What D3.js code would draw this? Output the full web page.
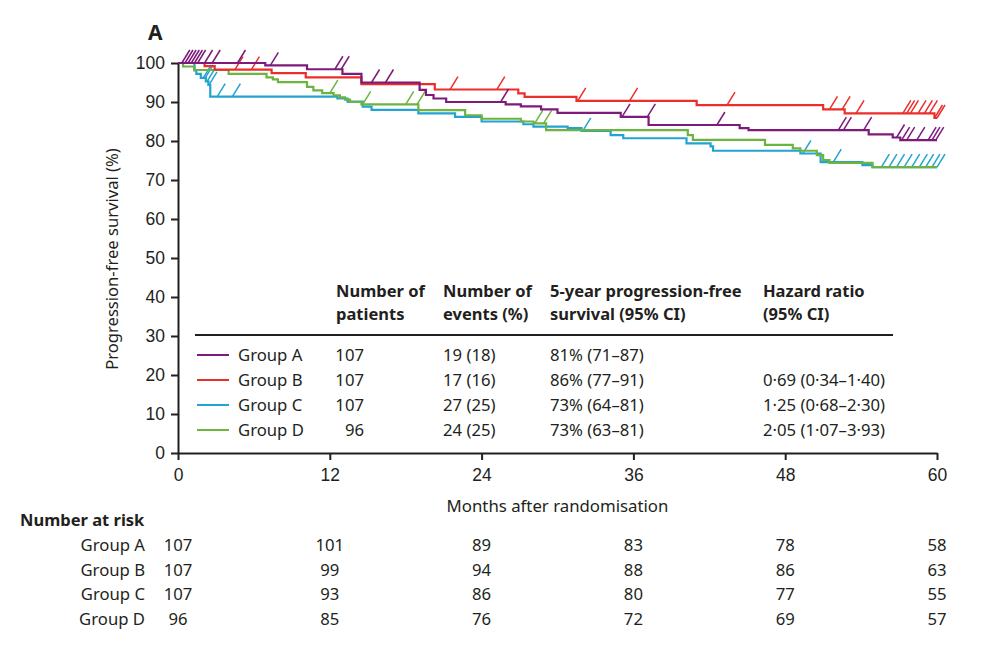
<!DOCTYPE html>
<html>
<head>
<meta charset="utf-8">
<title>Progression-free survival</title>
<style type="text/css">
body { margin:0; background:#fff; }
svg { font-family:"Noto Sans", sans-serif; }
svg text { fill:#231f20; }
.axis { color:#231f20; }
.axis path, .axis line { stroke-width:2px; }
.axis text { font-size:17.5px; }
.curve { fill:none; stroke-width:2.2px; }
.censor { stroke-width:1.5px; }
.head { font-weight:bold; font-size:16.5px; }
.cell { font-size:16.7px; }
</style>
</head>
<body>
<div id="chart"></div>
<script src="https://cdn.jsdelivr.net/npm/d3@7"></script>
<script type="text/javascript">

// ---- data ----
var groups = ["Group A", "Group B", "Group C", "Group D"];

// [month, % progression-free] at each drop
var stepsA = [[0,100],[6.9,99.4],[10.2,98.4],[13.0,97.2],[14.5,95.0],[19.1,93.1],[19.6,91.8],[20.2,90.9],[21.2,90.0],[25.9,89.4],[27.1,88.9],[28.7,88.1],[30.0,87.2],[35.0,86.2],[37.2,84.1],[44.4,83.3],[45.1,82.8],[54.6,81.7],[56.5,80.9],[57.1,80.2]];
var stepsB = [[0,100],[2.1,99.2],[2.9,98.3],[7.4,97.4],[10.1,96.3],[14.5,94.6],[20.3,93.2],[26.9,92.2],[27.4,91.3],[31.5,90.3],[41.0,89.2],[51.0,88.1],[52.7,87.1],[59.8,85.9]];
var stepsC = [[0,100],[1.3,98.1],[1.45,97.2],[1.8,96.2],[2.2,95.3],[2.4,94.4],[2.55,91.4],[12.6,90.9],[13.4,90.1],[14.6,88.8],[15.3,88.0],[19.0,87.1],[21.9,86.2],[24.0,85.0],[27.3,84.3],[28.1,83.7],[30.8,83.3],[31.9,82.6],[34.2,81.5],[35.2,80.7],[40.2,79.4],[42.1,78.6],[42.3,77.5],[49.2,76.8],[50.8,74.6],[54.1,73.8],[54.9,73.3]];
var stepsD = [[0,100],[0.4,99.1],[1.3,98.2],[4.0,97.2],[7.0,96.3],[7.5,95.8],[7.9,95.1],[10.2,93.9],[10.7,93.0],[11.4,92.3],[12.3,91.7],[12.8,91.2],[13.2,90.6],[13.6,90.0],[14.5,89.4],[19.0,87.9],[22.7,86.6],[24.0,85.7],[27.1,85.0],[28.1,84.5],[29.1,82.8],[40.3,81.5],[40.7,80.3],[46.4,79.0],[48.6,78.1],[49.2,77.5],[50.5,76.4],[51.0,75.1],[51.5,74.4],[54.9,73.3]];

// censoring times (months)
var censorA = [0.3,0.55,0.8,1.05,1.3,1.55,2.1,2.7,4.7,7.3,12.4,12.9,15.3,16.4,25.5,35.1,37.1,42.6,52.2,52.6,54.2,56.8,57.2,57.6,58.4,59.3,59.6,59.9];
var censorB = [4.5,5.8,21.5,25.2,31.6,35.7,43.4,51.5,52.5,53.6,57.3,57.6,57.9,58.5,59.0,59.4,59.8,60.0];
var censorC = [2.0,2.15,2.3,2.45,3.1,4.3,32.0,49.4,51.8,55.6,56.2,56.8,57.4,58.0,58.6,59.1,59.6,60.0];
var censorD = [12.0,14.6,18.0,18.9,28.2,28.9];

var yTicks = [0,10,20,30,40,50,60,70,80,90,100];
var riskTimes = [0,12,24,36,48,60];

var nPatients = [107,107,107,96];
var nEvents = ["19 (18)","17 (16)","27 (25)","24 (25)"];
var pfs5 = ["81% (71\u201387)","86% (77\u201391)","73% (64\u201381)","73% (63\u201381)"];
var hazard = ["","0\u00b769 (0\u00b734\u20131\u00b740)","1\u00b725 (0\u00b768\u20132\u00b730)","2\u00b705 (1\u00b707\u20133\u00b793)"];

var riskA = [107,101,89,83,78,58];
var riskB = [107,99,94,88,86,63];
var riskC = [107,93,86,80,77,55];
var riskD = [96,85,76,72,69,57];

// ---- drawing ----
var colours = ["#7d1a7a","#ec2d2a","#22a3d2","#6db33f"];
var steps = [stepsA, stepsB, stepsC, stepsD];
var censors = [censorA, censorB, censorC, censorD];
var risks = [riskA, riskB, riskC, riskD];

var width = 983, height = 656;

var svg = d3.select("#chart").append("svg")
	.attr("width", width)
	.attr("height", height);

var x = d3.scaleLinear().domain([0,60]).range([178,937]);
var y = d3.scaleLinear().domain([0,100]).range([453,63]);

svg.append("g")
	.attr("class","axis")
	.attr("transform","translate(0,453)")
	.call(d3.axisBottom(x).tickValues(riskTimes).tickSize(7).tickSizeOuter(0).tickPadding(9));

svg.append("g")
	.attr("class","axis")
	.attr("transform","translate(178,0)")
	.call(d3.axisLeft(y).tickValues(yTicks).tickSize(7).tickSizeOuter(0).tickPadding(6));

svg.append("text")
	.attr("x",148).attr("y",40)
	.style("font-weight","bold").style("font-size","21px")
	.text("A");

svg.append("text")
	.attr("transform","translate(118,259) rotate(-90)")
	.attr("text-anchor","middle")
	.style("font-size","16.6px")
	.text("Progression-free survival (%)");

svg.append("text")
	.attr("x",(x(0)+x(60))/2).attr("y",512)
	.attr("text-anchor","middle")
	.style("font-size","16.8px")
	.text("Months after randomisation");

// value of a step curve at time t
function survAt(st, t){
	var v = st[0][1];
	st.forEach(function(p){ if (p[0] <= t) v = p[1]; });
	return v;
}

var line = d3.line()
	.x(function(d){ return x(d[0]); })
	.y(function(d){ return y(d[1]); })
	.curve(d3.curveStepAfter);

// draw order: C, D, B, A
[2,3,1,0].forEach(function(g){
	var pts = steps[g].slice();
	pts.push([60, pts[pts.length-1][1]]);

	svg.append("path")
		.attr("class","curve")
		.attr("stroke",colours[g])
		.attr("d",line(pts));

	svg.selectAll(".censor"+g)
		.data(censors[g])
		.enter().append("line")
		.attr("class","censor censor"+g)
		.attr("stroke",colours[g])
		.attr("x1",function(d){ return x(d); })
		.attr("y1",function(d){ return y(survAt(steps[g],d)); })
		.attr("x2",function(d){ return x(d)+8; })
		.attr("y2",function(d){ return y(survAt(steps[g],d))-13; });
});

// table inside the plot
var col = {label:238, patients:364, events:443, pfs:550, hr:763};

var heads = [
	{x:col.patients-28, l1:"Number of", l2:"patients"},
	{x:col.events, l1:"Number of", l2:"events (%)"},
	{x:col.pfs, l1:"5-year progression-free", l2:"survival (95% CI)"},
	{x:col.hr, l1:"Hazard ratio", l2:"(95% CI)"}
];

var head = svg.selectAll(".headcol")
	.data(heads)
	.enter().append("g")
	.attr("class","headcol");

head.append("text").attr("class","head")
	.attr("x",function(d){ return d.x; }).attr("y",297)
	.text(function(d){ return d.l1; });
head.append("text").attr("class","head")
	.attr("x",function(d){ return d.x; }).attr("y",320)
	.text(function(d){ return d.l2; });

svg.append("line")
	.attr("x1",195).attr("x2",893)
	.attr("y1",335).attr("y2",335)
	.attr("stroke","#231f20").attr("stroke-width",2);

var rows = svg.selectAll(".row")
	.data(groups)
	.enter().append("g")
	.attr("class","row")
	.attr("transform",function(d,i){ return "translate(0,"+(355+i*25)+")"; });

rows.append("line")
	.attr("x1",197).attr("x2",229)
	.attr("stroke",function(d,i){ return colours[i]; })
	.attr("stroke-width",2);

rows.append("text").attr("class","cell")
	.attr("x",col.label).attr("dy","0.35em")
	.text(String);
rows.append("text").attr("class","cell")
	.attr("x",col.patients).attr("dy","0.35em").attr("text-anchor","end")
	.text(function(d,i){ return nPatients[i]; });
rows.append("text").attr("class","cell")
	.attr("x",col.events).attr("dy","0.35em")
	.text(function(d,i){ return nEvents[i]; });
rows.append("text").attr("class","cell")
	.attr("x",col.pfs).attr("dy","0.35em")
	.text(function(d,i){ return pfs5[i]; });
rows.append("text").attr("class","cell")
	.attr("x",col.hr).attr("dy","0.35em")
	.text(function(d,i){ return hazard[i]; });

// number at risk
svg.append("text").attr("class","head")
	.attr("x",20).attr("y",526)
	.text("Number at risk");

var risk = svg.selectAll(".riskrow")
	.data(groups)
	.enter().append("g")
	.attr("class","riskrow")
	.attr("transform",function(d,i){ return "translate(0,"+(545+i*24.7)+")"; });

risk.append("text").attr("class","cell")
	.attr("x",145).attr("dy","0.35em").attr("text-anchor","end")
	.text(String);

risk.selectAll(".n")
	.data(function(d,i){ return risks[i]; })
	.enter().append("text")
	.attr("class","cell n")
	.attr("x",function(d,i){ return x(riskTimes[i]); })
	.attr("dy","0.35em")
	.attr("text-anchor","middle")
	.text(String);

</script>
</body>
</html>
